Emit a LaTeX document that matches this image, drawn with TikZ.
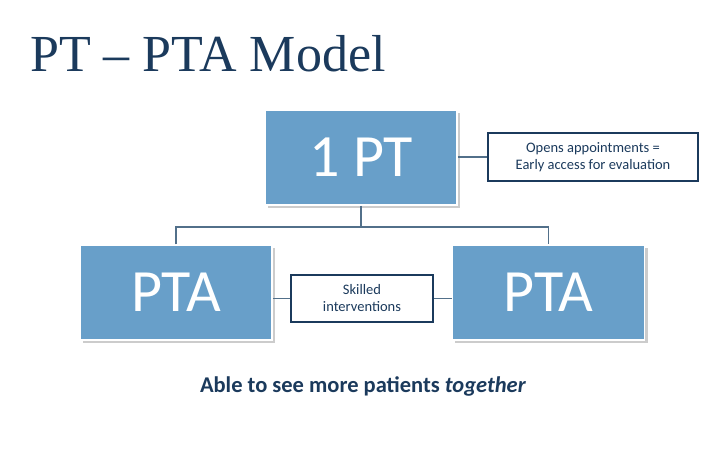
\documentclass[tikz,border=0pt]{standalone}
\usepackage{fontspec}
\setmainfont{Carlito}
\newfontfamily\titlefont{Liberation Serif}
\definecolor{navy}{HTML}{1B3A5C}
\definecolor{boxblue}{HTML}{689FC9}
\definecolor{linec}{HTML}{52708A}
\begin{document}
\begin{tikzpicture}[x=1pt,y=-1pt,
  big/.style={draw=white,line width=1.5pt,fill=boxblue,minimum width=192pt,minimum height=95pt,text=white,font=\fontsize{60}{62}\selectfont,inner sep=0pt},
  call/.style={draw=navy,line width=1.5pt,fill=white,text=navy,align=center,font=\fontsize{14.5}{17}\selectfont,inner sep=0pt},
  conn/.style={draw=linec,line width=1.5pt}]
\useasboundingbox (0,0) rectangle (726,452);
\node[anchor=base west,text=navy,font=\titlefont\fontsize{52}{54}\selectfont,inner sep=0pt] (title) at (30,72) {PT – PTA Model};
\fill[gray!40] (268,113) rectangle (460,208);
\node[big] (pt) at (361,157.5) {1 PT};
\fill[gray!40] (83,248) rectangle (275,343);
\node[big] (pta1) at (176,292.5) {PTA};
\fill[gray!40] (455,248) rectangle (648,343);
\node[big] (pta2) at (548.5,292.5) {PTA};
\node[call,minimum width=210pt,minimum height=48pt] (c1) at (593,157) {Opens appointments =\\Early access for evaluation};
\node[call,minimum width=142pt,minimum height=47pt] (c2) at (362,298.5) {Skilled\\interventions};
\coordinate (j) at (361,227);
\draw[conn] (pt.south) -- (j);
\draw[conn] (pta1.north) |- (j) -| (pta2.north);
\draw[conn] (c1.west -| pt.east) -- (c1.west);
\draw[conn] (c2.west -| pta1.east) -- (c2.west);
\draw[conn] (c2.east) -- (c2.east -| pta2.west);
\node[text=navy,font=\bfseries\fontsize{22.5}{26}\selectfont] (bottom) at (363,386) {Able to see more patients \textit{together}};
\end{tikzpicture}
\end{document}
